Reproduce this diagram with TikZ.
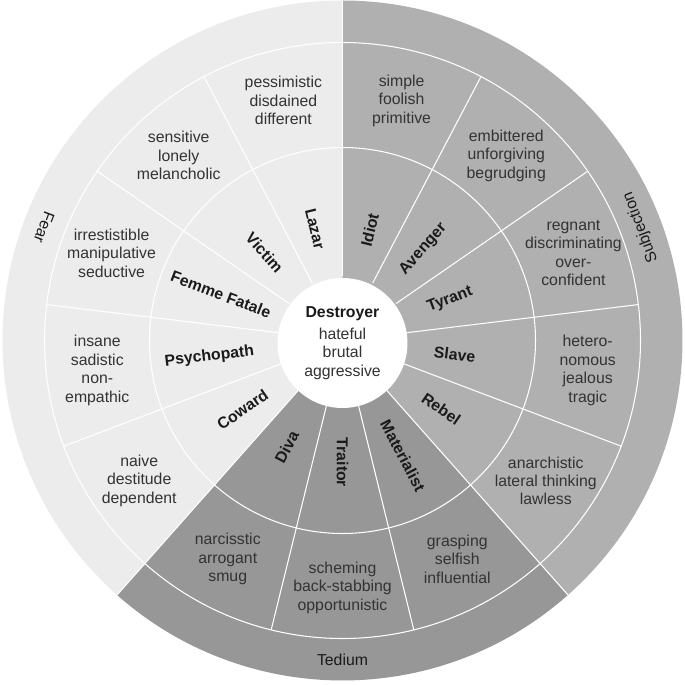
\documentclass[tikz,border=0pt]{standalone}
\usepackage{fontspec}
\setmainfont{Liberation Sans}
\usepackage{xcolor}
\usepackage{tikz}
\definecolor{fearfill}{HTML}{ECECEC}
\definecolor{subjfill}{HTML}{B0B0B0}
\definecolor{tedfill}{HTML}{979797}
\definecolor{desctext}{HTML}{333333}
\definecolor{nametext}{HTML}{1A1A1A}

\begin{document}
\begin{tikzpicture}[
    every node/.style={font=\fontsize{9}{10.5}\selectfont},
    divider/.style={white, line width=0.6pt},
    namelabel/.style={font=\fontsize{9}{10.5}\selectfont\bfseries, text=nametext, inner sep=1pt},
    desclabel/.style={align=center, text=desctext, inner sep=1pt},
    grouplabel/.style={text=nametext, inner sep=1pt}
  ]
    \useasboundingbox (-6.85,-6.89) rectangle (6.85,6.81);
    \pgfmathsetmacro{\ang}{360/13}
    % the three groups
    \fill[fearfill] (0,0) -- (90:6.8) arc[start angle=90, end angle={90+5*\ang}, radius=6.8] -- cycle;
    \fill[tedfill] (0,0) -- ({90+5*\ang}:6.8) arc[start angle={90+5*\ang}, end angle={90+8*\ang}, radius=6.8] -- cycle;
    \fill[subjfill] (0,0) -- ({90+8*\ang}:6.8) arc[start angle={90+8*\ang}, end angle=450, radius=6.8] -- cycle;
    % rings and spokes
    \draw[divider] (0,0) circle[radius=5.96];
    \draw[divider] (0,0) circle[radius=3.86];
    \foreach \k in {0,...,12}
      \draw[divider] ({90+\k*\ang}:1.3) -- ({90+\k*\ang}:5.96);
    \foreach \k in {0,5,8}
      \draw[divider] ({90+\k*\ang}:5.96) -- ({90+\k*\ang}:6.8);
    % centre
    \node[circle, fill=white, minimum size=2.6cm, inner sep=0pt, align=center, text=desctext] (core) at (0,-0.05)
      {{\bfseries\color{nametext}Destroyer}\\[2pt]hateful\\brutal\\aggressive};
    % archetypes and their traits
    \foreach \name/\rad/\desc [count=\k from 0] in {
        Lazar/2.3/{pessimistic\\disdained\\different},
        Victim/2.35/{sensitive\\lonely\\melancholic},
        Femme Fatale/2.6/{irrestistible\\manipulative\\seductive},
        Psychopath/2.68/{insane\\sadistic\\non-\\empathic},
        Coward/2.43/{naive\\destitude\\dependent},
        Diva/2.4/{narcisstic\\arrogant\\smug},
        Traitor/2.44/{scheming\\back-stabbing\\opportunistic},
        Materialist/2.6/{grasping\\selfish\\influential},
        Rebel/2.4/{anarchistic\\lateral thinking\\lawless},
        Slave/2.26/{hetero-\\nomous\\jealous\\tragic},
        Tyrant/2.3/{regnant\\discriminating\\over-\\confident},
        Avenger/2.44/{embittered\\unforgiving\\begrudging},
        Idiot/2.28/{simple\\foolish\\primitive}} {
      \pgfmathsetmacro{\midang}{90+(\k+0.5)*\ang}
      \pgfmathsetmacro{\rot}{(\midang>90.1 && \midang<269.9) ? \midang+180 : \midang}
      \node[namelabel, rotate=\rot] (name-\k) at (\midang:\rad) {\name};
      \node[desclabel] (desc-\k) at (\midang:4.94) {\desc};
    }
    % group labels
    \node[grouplabel, rotate={90+2.5*\ang+90}] (fear) at ({90+2.5*\ang}:6.38) {Fear};
    \node[grouplabel, rotate={90+6.5*\ang+90}] (tedium) at ({90+6.5*\ang}:6.38) {Tedium};
    \node[grouplabel, rotate={90+10.5*\ang+90}] (subjection) at ({90+10.5*\ang}:6.38) {Subjection};
\end{tikzpicture}
\end{document}
